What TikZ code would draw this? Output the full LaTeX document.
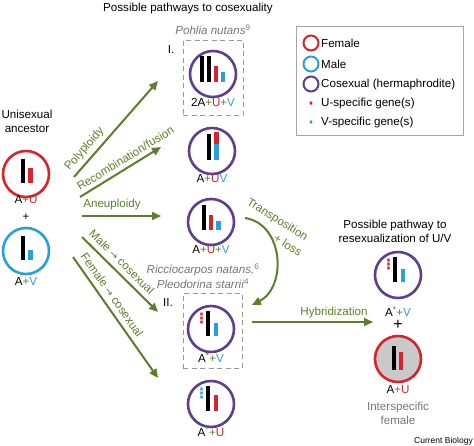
\documentclass[tikz,border=0pt]{standalone}
\usepackage{fontspec}
\setmainfont{Liberation Sans}
\newfontfamily\arrowfont{DejaVu Sans}
\usetikzlibrary{arrows.meta}
\definecolor{cred}{HTML}{D7232A}
\definecolor{cblue}{HTML}{2AA0D8}
\definecolor{cpurple}{HTML}{5E3F8E}
\definecolor{cgreen}{HTML}{5B7F2B}
\definecolor{cgray}{HTML}{767676}
\definecolor{cfill}{HTML}{C9C9C9}
\newcommand{\myplus}{{\color{cgreen}+}}
\newcommand{\myU}{{\color{cred}U}}
\newcommand{\myV}{{\color{cblue}V}}
\newcommand{\myto}{{\arrowfont\fontsize{10}{10}\selectfont →}}
\newcommand{\mybar}[6]{\fill[#6] ([shift={(#2,#3)}]#1.center) rectangle ([shift={(#4,#5)}]#1.center);}
\tikzset{
  txt/.style={font=\fontsize{11.6}{14}\selectfont, inner sep=0pt, align=center},
  gtxt/.style={txt, text=cgreen},
  sexcirc/.style={circle, draw, line width=2.6pt, minimum size=46pt, inner sep=0pt},
  legcirc/.style={circle, draw, line width=2pt, minimum size=15pt, inner sep=0pt},
  dashbox/.style={draw=gray!80, line width=1pt, dash pattern=on 5pt off 3.5pt, inner sep=0pt},
  garrow/.style={draw=cgreen, line width=2pt, -{Triangle[length=9pt,width=8pt]}},
  ast/.pic={\draw[line width=0.8pt] (-1.7,0)--(1.7,0) (-0.85,-1.5)--(0.85,1.5) (-0.85,1.5)--(0.85,-1.5);}
}
\begin{document}
\begin{tikzpicture}[x=1pt,y=-1pt]
\useasboundingbox (0,0) rectangle (474,445);
% title
\node[txt] (title) at (188,8) {Possible pathways to cosexuality};
% left ancestors
\node[txt] (anc) at (27,121) {Unisexual\\ancestor};
\node[sexcirc, draw=cred] (F) at (26,174) {};
\mybar{F}{-5.5}{-15}{-1}{9}{black}
\mybar{F}{2}{-6}{6.5}{9}{cred}
\node[txt] (Flab) at (26,200) {A\myplus\myU};
\node[txt] (Fplus) at (26,217) {+};
\node[sexcirc, draw=cblue] (M) at (26,251) {};
\mybar{M}{-5.5}{-15}{-1}{9}{black}
\mybar{M}{2}{-1}{6.5}{9}{cblue}
\node[txt] (Mlab) at (26,282) {A\myplus\myV};
% box I
\node[dashbox, minimum width=60pt, minimum height=75pt] (boxI) at (213,77.5) {};
\node[txt] (romI) at (171,50) {I.};
\node[txt, text=cgray] (pohl) at (213,30) {\textit{Pohlia nutans}\textsuperscript{9}};
\node[sexcirc, draw=cpurple] (C1) at (213,74) {};
\mybar{C1}{-13.5}{-18}{-9}{8}{black}
\mybar{C1}{-6.5}{-18}{-2}{8}{black}
\mybar{C1}{0.5}{-8}{5}{8}{cred}
\mybar{C1}{7.5}{-2}{12}{8}{cblue}
\node[txt] (C1lab) at (213,103) {2A\myplus\myU\myplus\myV};
% C2
\node[sexcirc, draw=cpurple] (C2) at (212,151) {};
\mybar{C2}{-5.5}{-17}{-1}{9}{black}
\mybar{C2}{2}{-19}{6.5}{-7}{cred}
\mybar{C2}{2}{-7}{6.5}{9}{cblue}
\node[txt] (C2lab) at (212,179) {A\myplus\myU\myV};
% C3
\node[sexcirc, draw=cpurple] (C3) at (211,222) {};
\mybar{C3}{-9.5}{-17}{-5}{8}{black}
\mybar{C3}{-2.25}{-7}{2.25}{8}{cred}
\mybar{C3}{5}{-1}{9.5}{8}{cblue}
\node[txt] (C3lab) at (211,250) {A\myplus\myU\myplus\myV};
% species II
\node[txt, text=cgray] (ricc) at (203,270) {\textit{Ricciocarpos natans,}\textsuperscript{6}};
\node[txt, text=cgray] (pleo) at (203,284) {\textit{Pleodorina starrii}\textsuperscript{4}};
\node[dashbox, minimum width=59pt, minimum height=75pt] (boxII) at (212.5,330.5) {};
\node[txt] (romII) at (168,303) {II.};
\node[sexcirc, draw=cpurple] (C4) at (211,329) {};
\mybar{C4}{-5.5}{-18}{-1}{7}{black}
\mybar{C4}{2.5}{-6}{7}{7}{cblue}
\pic[color=cred] at ([shift={(-9.5,-15)}]C4.center) {ast};
\pic[color=cred] at ([shift={(-9.5,-11)}]C4.center) {ast};
\pic[color=cred] at ([shift={(-9.5,-7)}]C4.center) {ast};
\node[txt] (C4lab) at (211,358) {A\textsuperscript{\color{cred}*}\myplus\myV};
% C5
\node[sexcirc, draw=cpurple] (C5) at (211,404) {};
\mybar{C5}{-5.5}{-18}{-1}{7}{black}
\mybar{C5}{2.5}{-9}{7}{7}{cred}
\pic[color=cblue] at ([shift={(-9.5,-15)}]C5.center) {ast};
\pic[color=cblue] at ([shift={(-9.5,-11)}]C5.center) {ast};
\pic[color=cblue] at ([shift={(-9.5,-7)}]C5.center) {ast};
\node[txt] (C5lab) at (211,432) {A\textsuperscript{\color{cblue}*}\myplus\myU};
% right side
\node[txt] (rtitle) at (395,231) {Possible pathway to\\resexualization of U/V};
\node[sexcirc, draw=cpurple] (R1) at (398,275) {};
\mybar{R1}{-5.5}{-18}{-1}{7}{black}
\mybar{R1}{2.5}{-6}{7}{7}{cblue}
\pic[color=cred] at ([shift={(-9.5,-15)}]R1.center) {ast};
\pic[color=cred] at ([shift={(-9.5,-11)}]R1.center) {ast};
\pic[color=cred] at ([shift={(-9.5,-7)}]R1.center) {ast};
\node[txt] (R1lab) at (398,312) {A\textsuperscript{\color{cred}*}\myplus\myV};
\node[txt, font=\fontsize{16}{16}\selectfont] (Rplus) at (398,325) {+};
\node[sexcirc, draw=cred, fill=cfill] (R2) at (398,359) {};
\mybar{R2}{-6.5}{-13}{-2}{11}{black}
\mybar{R2}{0.5}{-7}{5}{11}{cred}
\node[txt] (R2lab) at (398,390) {A\myplus\myU};
\node[txt, text=cgray] (inter) at (398,413) {Interspecific\\female};
\node[txt, font=\fontsize{8.5}{10}\selectfont, anchor=east] (cb) at (473,441) {Current Biology};
% legend
\node[draw=gray!70, line width=0.8pt, minimum width=167pt, minimum height=109pt, inner sep=0pt] (leg) at (379.5,80.5) {};
\node[legcirc, draw=cred] (lgF) at (311,43) {};
\node[txt, anchor=west] (lgFt) at (321,43) {Female};
\node[legcirc, draw=cblue] (lgM) at (311,64) {};
\node[txt, anchor=west] (lgMt) at (321,64) {Male};
\node[legcirc, draw=cpurple] (lgC) at (311,84) {};
\node[txt, anchor=west] (lgCt) at (321,84) {Cosexual (hermaphrodite)};
\coordinate (lgU) at (311,103);
\pic[color=cred] at (lgU) {ast};
\node[txt, anchor=west] (lgUt) at (321,103) {U-specific gene(s)};
\coordinate (lgV) at (311,122);
\pic[color=cblue] at (lgV) {ast};
\node[txt, anchor=west] (lgVt) at (321,122) {V-specific gene(s)};
% arrows
\coordinate (p1s) at (74,177); \coordinate (p1e) at (158,81);
\coordinate (p2s) at (80,197); \coordinate (p2e) at (161,147);
\coordinate (p3s) at (82,216); \coordinate (p3e) at (161,216);
\coordinate (p4s) at (82,237); \coordinate (p4e) at (158,312);
\coordinate (p5s) at (73,257); \coordinate (p5e) at (158,378);
\coordinate (ts) at (245,218); \coordinate (te) at (252,305);
\coordinate (hs) at (252,322); \coordinate (he) at (373,322);
\draw[garrow] (p1s) -- node[gtxt, sloped, above=4pt, pos=0.22] {Polyploidy} (p1e);
\draw[garrow] (p2s) -- node[gtxt, sloped, above=4pt, pos=0.62] {Recombination/fusion} (p2e);
\draw[garrow] (p3s) -- node[gtxt, above=5pt, pos=0.38] {Aneuploidy} (p3e);
\draw[garrow] (p4s) -- node[gtxt, sloped, above=5pt, pos=0.43] {Male \myto\ cosexual} (p4e);
\draw[garrow] (p5s) -- node[gtxt, sloped, above=5pt, pos=0.36] {Female \myto\ cosexual} (p5e);
\draw[garrow] (ts) .. controls (284,224) and (287,287) .. (te);
\node[gtxt, rotate=-32] (trans) at (277,220) {Transposition};
\node[gtxt, rotate=-32] (loss) at (288,245) {+ loss};
\draw[garrow] (hs) -- (he);
\node[gtxt] (hyb) at (334,312) {Hybridization};
\end{tikzpicture}
\end{document}
